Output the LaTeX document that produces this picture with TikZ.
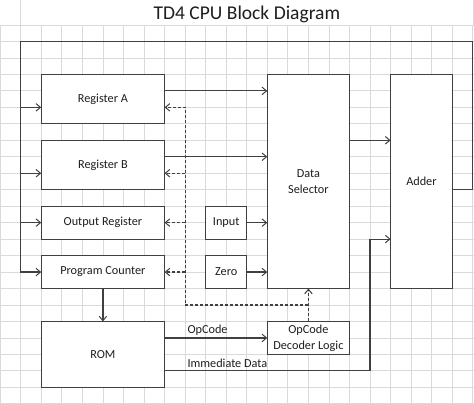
\documentclass[tikz,border=0pt]{standalone}
\usepackage{fontspec}
\setmainfont{Carlito}
\usetikzlibrary{arrows.meta}
\definecolor{gridc}{RGB}{218,218,218}
\definecolor{linec}{RGB}{64,64,64}
\definecolor{textc}{RGB}{30,30,30}
\tikzset{
  gridl/.style={draw=gridc, line width=0.8pt},
  box/.style={draw=linec, line width=1pt, fill=white, inner sep=0pt, outer sep=0pt,
    font=\fontsize{12.25}{16.4}\selectfont, text=textc, align=center},
  conn/.style={draw=linec, line width=1.2pt},
  arr/.style={conn, -{Straight Barb[length=4.5pt,width=7.5pt,line width=1pt]}},
  darr/.style={arr, dash pattern=on 3pt off 2pt},
  dline/.style={conn, dash pattern=on 3pt off 2pt},
  lbl/.style={inner sep=0pt, font=\fontsize{12.25}{15}\selectfont, text=textc},
}
\begin{document}
\begin{tikzpicture}[x=20.55pt,y=-16.47pt]
\useasboundingbox (-1.00730,-1.51791) rectangle (22.05839,23.01154);
% grid
\foreach \c in {-1,...,22} \draw[gridl] (\c,0) -- (\c,23.02);
\draw[gridl] (0,-1.52) -- (0,0);
\draw[gridl] (22.03,-1.52) -- (22.03,0);
\foreach \r in {0,...,23} \draw[gridl] (-1.01,\r) -- (22.06,\r);
% title
\node[inner sep=0pt, anchor=base, font=\fontsize{19.5}{22}\selectfont, text=textc] (title) at (11.007,-0.3036) {TD4 CPU Block Diagram};
% boxes
\node[box, minimum width=123.3pt, minimum height=49.41pt] (regA) at (4,4.5) {Register A};
\node[box, minimum width=123.3pt, minimum height=49.41pt] (regB) at (4,8.5) {Register B};
\node[box, minimum width=123.3pt, minimum height=32.94pt] (outreg) at (4,12) {Output Register};
\node[box, minimum width=123.3pt, minimum height=32.94pt] (pc) at (4,15) {Program Counter};
\node[box, minimum width=123.3pt, minimum height=65.88pt] (rom) at (4,20) {ROM};
\node[box, minimum width=41.1pt, minimum height=32.94pt] (input) at (10,12) {Input};
\node[box, minimum width=41.1pt, minimum height=32.94pt] (zero) at (10,15) {Zero};
\node[box, minimum width=82.2pt, minimum height=214.11pt] (ds) at (14,9.5) {Data\\Selector};
\node[box, minimum width=61.65pt, minimum height=214.11pt] (adder) at (19.5,9.5) {Adder};
\node[box, minimum width=82.2pt, minimum height=32.94pt, font=\fontsize{12.25}{16}\selectfont] (dec) at (14,19) {OpCode\\Decoder Logic};
% feedback frame
\draw[arr] (adder.east |- 0,10) -- (22,10) -- (22,1) -- (0,1) -- (0,15) -- (pc.west);
\draw[arr] (0,5) -- (regA.west |- 0,5);
\draw[arr] (0,9) -- (regB.west |- 0,9);
\draw[arr] (0,12) -- (outreg.west);
% data paths
\draw[arr] (regA.east |- 0,4) -- (ds.west |- 0,4);
\draw[arr] (regB.east |- 0,8) -- (ds.west |- 0,8);
\draw[arr] (input.east) -- (ds.west |- input.east);
\draw[arr] (zero.east) -- (ds.west |- zero.east);
\draw[arr] (ds.east |- 0,7) -- (adder.west |- 0,7);
\draw[arr] (pc.south) -- (rom.north);
\draw[arr] (rom.east |- 0,19) -- (dec.west);
\draw[arr] (rom.east |- 0,21) -- (17,21) -- (17,13) -- (adder.west |- 0,13);
% control (dashed)
\coordinate (j) at (14,17);
\draw[darr] (dec.north) -- (ds.south);
\draw[darr] (j) -- (8,17) -- (8,5) -- (regA.east |- 0,5);
\draw[darr] (8,9) -- (regB.east |- 0,9);
\draw[darr] (8,12) -- (outreg.east);
\draw[darr] (8,15) -- (pc.east);
% labels
\node[lbl, anchor=base west] (lop) at (8.107,18.743) {OpCode};
\node[lbl, anchor=base west] (limm) at (8.107,20.78) {Immediate Data};
\end{tikzpicture}
\end{document}
